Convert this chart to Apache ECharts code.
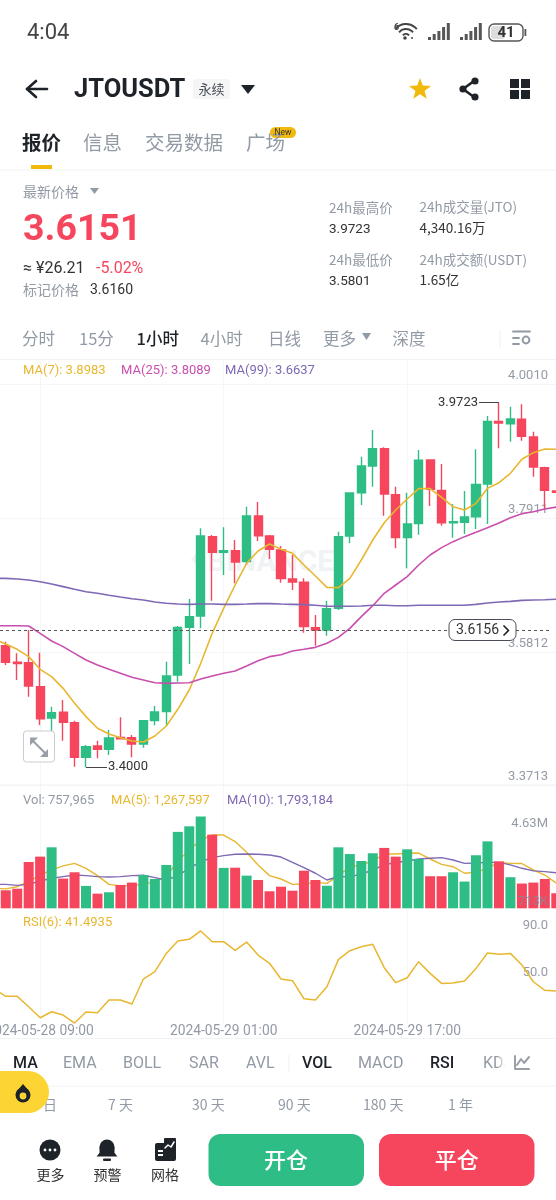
<!DOCTYPE html>
<html><head><meta charset="utf-8">
<style>html,body{margin:0;padding:0;background:#fff}#c{width:556px;height:1200px}</style>
<script src="https://cdn.jsdelivr.net/npm/echarts@6/dist/echarts.min.js"></script>
</head><body><div id="c"></div>
<script>
const dates=['2024-05-28 05:00','2024-05-28 06:00','2024-05-28 07:00','2024-05-28 08:00','2024-05-28 09:00','2024-05-28 10:00','2024-05-28 11:00','2024-05-28 12:00','2024-05-28 13:00','2024-05-28 14:00','2024-05-28 15:00','2024-05-28 16:00','2024-05-28 17:00','2024-05-28 18:00','2024-05-28 19:00','2024-05-28 20:00','2024-05-28 21:00','2024-05-28 22:00','2024-05-28 23:00','2024-05-29 00:00','2024-05-29 01:00','2024-05-29 02:00','2024-05-29 03:00','2024-05-29 04:00','2024-05-29 05:00','2024-05-29 06:00','2024-05-29 07:00','2024-05-29 08:00','2024-05-29 09:00','2024-05-29 10:00','2024-05-29 11:00','2024-05-29 12:00','2024-05-29 13:00','2024-05-29 14:00','2024-05-29 15:00','2024-05-29 16:00','2024-05-29 17:00','2024-05-29 18:00','2024-05-29 19:00','2024-05-29 20:00','2024-05-29 21:00','2024-05-29 22:00','2024-05-29 23:00','2024-05-30 00:00','2024-05-30 01:00','2024-05-30 02:00','2024-05-30 03:00','2024-05-30 04:00','2024-05-30 05:00','2024-05-30 06:00'];
const xLabelDates=['2024-05-28 09:00','2024-05-29 01:00','2024-05-29 17:00'];
// [open, close, low, high]
const candles=[[3.6000,3.5908,3.5800,3.6100],[3.5908,3.5647,3.5605,3.5971],[3.5647,3.5626,3.5369,3.5788],[3.5641,3.5275,3.5108,3.6154],[3.5265,3.4762,3.4663,3.5798],[3.4773,3.4856,3.4229,3.4951],[3.4862,3.4705,3.4417,3.5055],[3.4700,3.4155,3.4009,3.4731],[3.4155,3.4323,3.4000,3.4349],[3.4333,3.4281,3.4140,3.4417],[3.4281,3.4459,3.4192,3.4584],[3.4469,3.4448,3.4443,3.4783],[3.4464,3.4365,3.4155,3.4506],[3.4365,3.4731,3.4307,3.4741],[3.4731,3.4867,3.4658,3.4961],[3.4872,3.5432,3.4647,3.5657],[3.5448,3.6196,3.5343,3.6217],[3.6196,3.6364,3.5621,3.6641],[3.6374,3.7630,3.6180,3.7750],[3.7620,3.7374,3.6615,3.7646],[3.7374,3.7400,3.7018,3.7766],[3.7400,3.7222,3.6887,3.7567],[3.7227,3.7944,3.7175,3.8090],[3.7944,3.7635,3.7551,3.8164],[3.7630,3.7421,3.7269,3.7646],[3.7410,3.6960,3.6897,3.7473],[3.6955,3.6908,3.6782,3.7332],[3.6903,3.6207,3.6112,3.6965],[3.6191,3.6154,3.5908,3.6390],[3.6154,3.6489,3.6065,3.6615],[3.6494,3.7620,3.6468,3.7698],[3.7630,3.8305,3.7515,3.8310],[3.8310,3.8729,3.8117,3.8875],[3.8729,3.9001,3.8404,3.9294],[3.9001,3.8289,3.7949,3.9022],[3.8279,3.7604,3.7436,3.8404],[3.7604,3.7818,3.7122,3.8310],[3.7824,3.8818,3.7651,3.8980],[3.8823,3.8363,3.8101,3.8834],[3.8347,3.7839,3.7792,3.8760],[3.7839,3.7855,3.7604,3.8132],[3.7845,3.7928,3.7661,3.8336],[3.7933,3.8441,3.7740,3.8991],[3.8446,3.9430,3.7818,3.9514],[3.9430,3.9404,3.9006,3.9723],[3.9393,3.9467,3.9111,3.9660],[3.9462,3.9195,3.9127,3.9697],[3.9184,3.8713,3.8561,3.9268],[3.8703,3.8347,3.8054,3.8718],[3.8336,3.8315,3.8310,3.8340]];
const ma7=[3.6008,3.5934,3.5851,3.5736,3.5537,3.5422,3.5238,3.5003,3.4794,3.4611,3.4522,3.4464,3.4412,3.4396,3.4490,3.4647,3.4909,3.5212,3.5631,3.6102,3.6494,3.6861,3.7201,3.7395,3.7504,3.7421,3.7358,3.7175,3.7002,3.6824,3.6819,3.6965,3.7253,3.7567,3.7839,3.8038,3.8211,3.8373,3.8373,3.8237,3.8090,3.8038,3.8143,3.8378,3.8467,3.8614,3.8834,3.8938,3.8996,3.8991];
const ma25=[3.6222,3.6222,3.6222,3.6217,3.6102,3.5982,3.5893,3.5788,3.5683,3.5605,3.5537,3.5474,3.5411,3.5369,3.5327,3.5317,3.5322,3.5327,3.5385,3.5432,3.5474,3.5511,3.5589,3.5673,3.5736,3.5767,3.5825,3.5851,3.5882,3.5945,3.6039,3.6180,3.6364,3.6536,3.6730,3.6861,3.6992,3.7175,3.7332,3.7447,3.7541,3.7620,3.7688,3.7761,3.7834,3.7918,3.7981,3.8012,3.8054,3.8085];
const ma99=[3.6965,3.6965,3.6955,3.6939,3.6913,3.6876,3.6835,3.6793,3.6756,3.6730,3.6699,3.6672,3.6646,3.6625,3.6594,3.6573,3.6562,3.6557,3.6562,3.6562,3.6557,3.6557,3.6562,3.6568,3.6568,3.6562,3.6557,3.6552,3.6542,3.6526,3.6526,3.6526,3.6531,3.6542,3.6542,3.6536,3.6536,3.6542,3.6542,3.6542,3.6542,3.6542,3.6557,3.6578,3.6594,3.6604,3.6620,3.6625,3.6630,3.6636];
const volume=[0.84,0.91,0.99,2.34,2.61,3.08,1.50,1.82,1.13,0.74,0.81,1.18,1.30,1.68,1.48,2.19,3.86,4.14,4.63,3.72,2.04,2.05,1.65,1.43,0.86,1.09,0.89,1.90,1.43,1.14,3.08,2.74,2.39,2.78,3.05,2.61,2.98,2.49,1.62,1.62,1.82,1.35,2.68,3.38,2.37,1.57,1.25,1.30,1.48,0.76];
const volMa5=[1.01,0.98,1.09,1.35,1.68,1.94,2.14,2.27,2.02,1.65,1.21,1.13,1.14,1.21,1.35,1.60,2.39,2.95,3.45,3.70,3.70,3.37,2.83,2.19,1.65,1.48,1.21,1.23,1.31,1.26,1.65,2.10,2.19,2.39,2.74,2.74,2.78,2.79,2.49,2.22,2.10,1.77,1.82,2.02,2.32,2.27,2.26,1.94,1.68,1.27];
const volMa10=[1.21,1.21,1.16,1.21,1.38,1.52,1.60,1.68,1.65,1.60,1.58,1.60,1.65,1.67,1.55,1.43,1.65,2.02,2.36,2.56,2.66,2.73,2.74,2.73,2.69,2.59,2.32,2.05,1.77,1.43,1.60,1.60,1.72,1.94,2.19,2.31,2.39,2.49,2.53,2.56,2.44,2.27,2.29,2.32,2.32,2.19,2.02,1.89,1.85,1.79];
const rsi6=[43.2,37.0,37.0,28.2,18.9,24.0,21.2,14.4,23.7,23.2,33.9,33.9,30.5,51.7,57.9,73.4,83.9,85.3,92.4,83.3,83.3,76.0,83.0,72.0,65.0,51.7,50.3,35.0,33.9,45.2,68.1,75.7,79.1,81.1,61.3,48.6,52.8,66.4,56.5,48.0,48.3,50.0,60.7,73.7,72.6,73.4,63.6,49.4,42.1,41.5];
const priceTicks=[3.3713,3.5812,3.7911,4.0010];
const volTicks=[0.713,4.63];
const rsiTicks=[50,90];
const lastPrice=3.6156;
const highPoint=['2024-05-30 01:00',3.9723];
const lowPoint=['2024-05-28 13:00',3.4000];

const GREEN='#2EBD85',RED='#F6465D',YEL='#E8B730',MAG='#C94FAE',PUR='#7F68B4',GRAY='#929AA5',DARK='#1E2329',GOLD='#F0B90B',GL='#F5F6F7';
const FF='Roboto,"Noto Sans CJK SC",sans-serif';
const CJK='"Noto Sans CJK SC",Roboto,sans-serif';
const g=[];
function T(x,y,text,size,fill,o){o=o||{};g.push({type:'text',z:o.z!==undefined?o.z:50,style:{x,y,text,fill,font:(o.weight||'normal')+' '+size+'px '+(o.font||FF),textAlign:o.align||'left',align:o.align||'left',textVerticalAlign:'middle',verticalAlign:'middle'}});}
function R(x,y,w,h,fill,r,stroke,z,lw){g.push({type:'rect',z:z||40,shape:{x,y,width:w,height:h,r:r||0},style:{fill:fill||'none',stroke:stroke||'none',lineWidth:lw||1}});}
function L(pts,stroke,lw,z){g.push({type:'polyline',z:z||45,shape:{points:pts},style:{stroke,lineWidth:lw||1,fill:'none',lineCap:'round',lineJoin:'round'}});}
function P(pts,fill,z){g.push({type:'polygon',z:z!==undefined?z:45,shape:{points:pts},style:{fill}});}
function C(cx,cy,r,fill,stroke,lw,z){g.push({type:'circle',z:z||45,shape:{cx,cy,r},style:{fill:fill||'none',stroke:stroke||'none',lineWidth:lw||1}});}

// status bar
T(27,33,'4:04',22,'#444');
T(394,28,'6',9,'#444',{weight:'bold'});
[4,9,14].forEach(r=>g.push({type:'arc',z:45,shape:{cx:406,cy:38,r,startAngle:-Math.PI*0.78,endAngle:-Math.PI*0.22,clockwise:true},style:{stroke:'#444',fill:'none',lineWidth:2}}));
C(405,38,1.8,'#444');C(412,38,1,'#444');
[428,460].forEach(x0=>[3,6,9,13,17].forEach((h,i)=>R(x0+i*4.7,40-h,3,h,'#555')));
R(489,24,34,17,'none',5,'#555',40,1.4);R(491,26,14,13,'#dddddd',3);
T(506,33,'41',15,'#333',{align:'center',weight:'bold'});R(524.5,29,1.8,7,'#555');

// header
L([[47,89],[27,89]],DARK,2.6);L([[36,81],[27,89],[36,97]],DARK,2.6);
T(74,91,'JTOUSDT',25.5,DARK,{weight:'bold'});
R(193,79,37,20,'#F5F5F5',3);T(211.5,89.5,'永续',13,'#474D57',{align:'center',font:CJK});
P([[241,85],[255,85],[248,94]],DARK);
const star=[];for(let k=0;k<10;k++){const r=k%2?4.8:11.5,a=-Math.PI/2+k*Math.PI/5;star.push([420+r*Math.cos(a),89.5+r*Math.sin(a)]);}
P(star,GOLD);
L([[474,81],[463,89],[474,97]],DARK,2.6);C(475,81,3.6,DARK);C(463,89,3.6,DARK);C(475,97,3.6,DARK);
[[510,79],[521,79],[510,90],[521,90]].forEach(p=>R(p[0],p[1],9,9,DARK));

// tabs
T(22,143,'报价',19.5,DARK,{weight:'bold',font:CJK});
T(83,143,'信息',19.5,GRAY,{font:CJK});T(145,143,'交易数据',19.5,GRAY,{font:CJK});T(246,143,'广场',19.5,GRAY,{font:CJK});
R(270,127,26,11,GOLD,5.5,null,46);T(283,132.6,'New',8.5,'#333',{align:'center',z:60});
R(31,165,21,4,GOLD);
L([[0,170],[556,170]],'#F1F2F3',1);

// price block
T(23,192,'最新价格',14,GRAY,{font:CJK});P([[90,188],[99,188],[94.5,194]],GRAY);
T(23,231,'3.6151',37.5,RED,{weight:'bold'});
T(23,268.5,'≈ ¥26.21',16,'#333');T(96,268.5,'-5.02%',16,RED);
T(23,290,'标记价格',14,GRAY,{font:CJK});T(90,290.5,'3.6160',14,'#333');
T(329,208,'24h最高价',13.5,GRAY,{font:CJK});T(329,229.5,'3.9723',13.5,'#333');
T(419.5,207,'24h成交量(JTO)',13.5,GRAY,{font:CJK});T(419.5,228,'4,340.16万',13.5,'#333',{font:CJK});
T(329,260,'24h最低价',13.5,GRAY,{font:CJK});T(329,281.5,'3.5801',13.5,'#333');
T(419.5,260,'24h成交额(USDT)',13.5,GRAY,{font:CJK});T(419.5,280,'1.65亿',13.5,'#333',{font:CJK});

// timeframe row
[[22,'分时'],[79,'15分'],[200.5,'4小时'],[268,'日线'],[323,'更多'],[392.5,'深度']].forEach(a=>T(a[0],339,a[1],16.5,GRAY,{font:CJK}));
T(136.5,339,'1小时',16.5,DARK,{font:CJK,weight:'500'});
P([[362,333],[371,333],[366.5,340]],GRAY);
L([[500,330],[500,347]],'#EEF0F2',1);
L([[513,331.5],[530,331.5]],GRAY,1.8);L([[513,338],[519,338]],GRAY,1.8);L([[513,344],[519,344]],GRAY,1.8);C(526,340,3.4,'none',GRAY,2);
L([[0,359.5],[556,359.5]],'#F1F2F3',1);L([[0,785],[556,785]],'#F1F2F3',1);L([[0,1038.5],[556,1038.5]],'#F1F2F3',1);

// chart legends
T(23,371,'MA(7): 3.8983',13,YEL);T(121,371,'MA(25): 3.8089',13,MAG);T(225,371,'MA(99): 3.6637',13,PUR);
T(23,801,'Vol: 757,965',13,GRAY);T(111,801,'MA(5): 1,267,597',13,YEL);T(227,801,'MA(10): 1,793,184',13,PUR);
T(23,923,'RSI(6): 41.4935',13,YEL);

// watermark
T(207,563,'BINANCE',30,'#F1F2F3',{weight:'bold',z:0});
P([[197,553],[203,559],[197,565],[191,559]],'#F1F2F3',0);

// current price pill
R(449,619.5,67,21,'#fff',6,'#4A4F57',60,1);T(456,630.5,'3.6156',14,'#333',{z:61});L([[504,626],[508.5,630.5],[504,635]],'#222',1.7,61);

// expand icon
R(23.5,731,31,31,'#fff',3,'#C9CDD2',30,1);
L([[33,741],[45,753]],'#9AA0A8',2,31);P([[30,737.5],[38,737.5],[30,745.5]],'#9AA0A8',31);P([[48,757],[40,757],[48,749]],'#9AA0A8',31);

// indicator row
[[63,'EMA'],[123,'BOLL'],[189,'SAR'],[246,'AVL'],[358,'MACD'],[483,'KDJ']].forEach(a=>T(a[0],1064,a[1],16,GRAY));
[[13,'MA'],[302,'VOL'],[430,'RSI']].forEach(a=>T(a[0],1064,a[1],16,DARK,{weight:'500'}));
g.push({type:'rect',z:52,shape:{x:497,y:1054,width:17,height:20},style:{fill:{type:'linear',x:0,y:0,x2:1,y2:0,colorStops:[{offset:0,color:'rgba(255,255,255,0)'},{offset:.5,color:'#fff'},{offset:1,color:'#fff'}]}}});
L([[289,1055],[289,1072]],'#EEF0F2',1);
L([[515,1056],[515,1069],[529,1069]],'#9AA0A8',2,53);L([[517,1065],[521,1059],[524,1063],[529,1057]],'#9AA0A8',2,53);
L([[0,1086],[556,1086]],'#F1F2F3',1);

// range row
[[32,'1 日'],[108,'7 天'],[192,'30 天'],[278,'90 天'],[363,'180 天'],[448,'1 年']].forEach(a=>T(a[0],1105,a[1],14,GRAY,{font:CJK}));
g.push({type:'rect',z:70,shape:{x:-20,y:1071,width:69,height:42,r:[0,21,21,0]},style:{fill:'#FCD535'}});
P([[23,1084],[29,1091],[15.5,1094.5],[15.5,1095],[17,1091]],DARK,71);C(23,1095,7.5,DARK,null,1,71);
C(23,1096,3.4,'#FCD535',null,1,72);

// bottom bar
C(50,1150,10.5,DARK);[45,50,55].forEach(x=>C(x,1150,1.4,'#fff',null,1,46));
C(107,1147,7.5,DARK);R(99.5,1147,15,8,DARK);P([[99.5,1153],[114.5,1153],[117.5,1156.5],[96.5,1156.5]],DARK);R(103,1158.5,8,2.5,DARK,1);
R(155,1143,21,18,DARK,2);R(164,1138,12,8,DARK,1);R(158,1150,5,2,'#fff',0,null,46);R(158,1154,5,2,'#fff',0,null,46);L([[165,1148],[168,1145],[171,1147],[174,1142]],'#fff',1.5,46);
[[50.5,'更多'],[107.5,'预警'],[165,'网格']].forEach(a=>T(a[0],1175,a[1],14,'#333',{align:'center',font:CJK}));
R(208.5,1134,155.5,52,GREEN,12);T(286,1160,'开仓',22,'#fff',{align:'center',font:CJK,weight:'500'});
R(379,1134,155.5,52,RED,12);T(456.7,1160,'平仓',22,'#fff',{align:'center',font:CJK,weight:'500'});

const xIdx=new Set(xLabelDates);
const xShow=(i,v)=>xIdx.has(v);
const gridX={left:-11.47,width:573.5,outerBoundsMode:'none',containLabel:false};
function xAxis(idx,labels){return {type:'category',gridIndex:idx,data:dates,boundaryGap:true,axisLine:{show:false},axisTick:{show:false},
 axisLabel:labels?{show:true,interval:xShow,color:GRAY,fontSize:13.8,fontFamily:FF,margin:1,hideOverlap:false}:{show:false,interval:xShow},
 splitLine:{show:true,interval:xShow,alignWithLabel:true,lineStyle:{color:GL,width:1}}};}
function yAxis(idx,min,max,ticks,extra,fmt){return {type:'value',gridIndex:idx,position:'right',min,max,scale:true,z:idx===1?5:0,axisLine:{show:false},axisTick:{show:false,customValues:ticks},
 splitLine:{show:idx===0,customValues:ticks,lineStyle:{color:GL,width:1}},
 axisLabel:Object.assign({inside:true,customValues:ticks,margin:14,color:'rgba(130,138,150,0.85)',fontSize:13,fontFamily:FF,formatter:fmt},extra)};}

const markLabel=t=>({show:true,position:'end',distance:1,formatter:t,color:'#333',fontSize:13,fontFamily:FF});
const option={animation:false,backgroundColor:'#fff',
 grid:[Object.assign({top:360,height:425.5},gridX),Object.assign({top:785,height:123.3},gridX),Object.assign({top:908.3,height:115.7},gridX)],
 xAxis:[xAxis(0,false),xAxis(1,false),xAxis(2,true)],
 yAxis:[yAxis(0,3.3713,4.0393,priceTicks,{verticalAlign:'bottom',padding:[0,0,2,0]},v=>v.toFixed(4)),
        yAxis(1,0,6.227,volTicks,{verticalAlign:'top',padding:[1,0,0,0]},v=>v>=1?v.toFixed(2)+'M':Math.round(v*1000)+'K'),
        yAxis(2,13.6,111.6,rsiTicks,{verticalAlign:'bottom',padding:[0,0,2,0]},v=>v.toFixed(1))],
 graphic:{elements:g},
 series:[
  {type:'candlestick',name:'K',xAxisIndex:0,yAxisIndex:0,data:candles,barWidth:8.6,z:2,silent:true,
   itemStyle:{color:GREEN,color0:RED,borderColor:GREEN,borderColor0:RED,borderWidth:1.4},
   markLine:{silent:true,symbol:'none',animation:false,z:6,precision:4,
    data:[
     [{x:0,yAxis:lastPrice,lineStyle:{color:'#555',type:[3,3],width:1},label:{show:false}},{x:549,yAxis:lastPrice}],
     [{coord:highPoint,lineStyle:{color:'#444',type:'solid',width:1},label:markLabel('3.9723')},{x:479,yAxis:highPoint[1]}],
     [{coord:lowPoint,lineStyle:{color:'#444',type:'solid',width:1},label:markLabel('3.4000')},{x:107,yAxis:lowPoint[1]}]
    ]}},
  {type:'line',name:'MA7',xAxisIndex:0,yAxisIndex:0,data:ma7,showSymbol:false,z:4,silent:true,lineStyle:{color:YEL,width:1.6}},
  {type:'line',name:'MA25',xAxisIndex:0,yAxisIndex:0,data:ma25,showSymbol:false,z:4,silent:true,lineStyle:{color:MAG,width:1.6}},
  {type:'line',name:'MA99',xAxisIndex:0,yAxisIndex:0,data:ma99,showSymbol:false,z:4,silent:true,lineStyle:{color:PUR,width:1.6}},
  {type:'line',name:'VMA5',xAxisIndex:1,yAxisIndex:1,data:volMa5,showSymbol:false,z:1,silent:true,lineStyle:{color:YEL,width:1.4}},
  {type:'line',name:'VMA10',xAxisIndex:1,yAxisIndex:1,data:volMa10,showSymbol:false,z:1,silent:true,lineStyle:{color:PUR,width:1.4}},
  {type:'bar',name:'Vol',xAxisIndex:1,yAxisIndex:1,barWidth:10,z:2,silent:true,
   data:volume.map((v,i)=>({value:v,itemStyle:{color:candles[i][1]>=candles[i][0]?GREEN:RED}}))},
  {type:'line',name:'RSI6',xAxisIndex:2,yAxisIndex:2,data:rsi6,showSymbol:false,z:3,silent:true,lineStyle:{color:YEL,width:1.5}}
 ]};
const chart=echarts.init(document.getElementById('c'),null,{renderer:'canvas',width:556,height:1200});
chart.setOption(option);
</script></body></html>
